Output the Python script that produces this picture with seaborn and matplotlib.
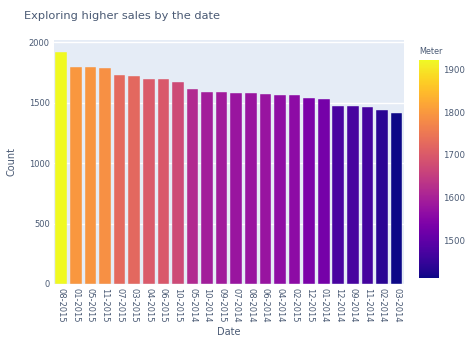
import numpy as np
import pandas as pd
import matplotlib
matplotlib.use("Agg")
import matplotlib.pyplot as plt
import seaborn as sns

dates = ["08-2015", "01-2015", "05-2015", "11-2015", "07-2015", "03-2015",
         "04-2015", "06-2015", "10-2015", "05-2014", "10-2014", "09-2015",
         "07-2014", "08-2014", "06-2014", "04-2014", "02-2015", "12-2015",
         "01-2014", "12-2014", "09-2014", "11-2014", "02-2014", "03-2014"]
counts = [1923, 1798, 1796, 1787, 1726, 1724, 1700, 1698, 1671, 1616, 1591, 1590,
          1578, 1577, 1576, 1563, 1560, 1535, 1527, 1471, 1470, 1466, 1436, 1411]
cbar_ticks = [1500, 1600, 1700, 1800, 1900]
y_ticks = [0, 500, 1000, 1500, 2000]

sns.set_theme(style="white")
plt.rcParams['font.family'] = ['DejaVu Sans']
txt = "#4a5a74"

df = pd.DataFrame({"Date": dates, "Count": counts})
norm = matplotlib.colors.Normalize(vmin=min(counts), vmax=max(counts))
cmap = plt.get_cmap("plasma")
colors = [cmap(norm(v)) for v in counts]

fig = plt.figure(figsize=(4.74, 3.48), dpi=100)
ax = fig.add_axes([0.114, 0.184, 0.738, 0.701])
ax.set_facecolor("#E5ECF6")
sns.barplot(data=df, x="Date", y="Count", hue="Date", hue_order=dates,
            order=dates, palette=colors, legend=False, dodge=False,
            width=0.8, saturation=1, ax=ax, zorder=3, edgecolor="#E5ECF6",
            linewidth=0.3)
ax.set_ylim(0, 2019)
ax.set_xlim(-0.5, len(dates) - 0.5)
ax.set_yticks(y_ticks)
ax.yaxis.grid(True, color="white", linewidth=1, zorder=0)
ax.set_axisbelow(True)
for s in ax.spines.values():
    s.set_visible(False)
ax.tick_params(axis="both", length=0, labelsize=6, colors=txt, pad=3)
ax.set_xticks(range(len(dates)))
ax.set_xticklabels(dates, rotation=270)
ax.set_xlabel("Date", fontsize=7, color=txt, labelpad=3)
ax.set_ylabel("Count", fontsize=7, color=txt, labelpad=9)

cax = fig.add_axes([0.884, 0.201, 0.042, 0.627])
sm = matplotlib.cm.ScalarMappable(norm=norm, cmap=cmap)
cb = fig.colorbar(sm, cax=cax)
cb.outline.set_visible(False)
cb.set_ticks(cbar_ticks)
cax.tick_params(length=0, labelsize=6.2, colors=txt, pad=3)
cax.set_title("Meter", fontsize=5.8, color=txt, loc="left", pad=4)

fig.text(0.051, 0.954, "Exploring higher sales by the date", fontsize=8.2,
         color=txt, va="center", ha="left")

fig.savefig("out.png", dpi=100)
